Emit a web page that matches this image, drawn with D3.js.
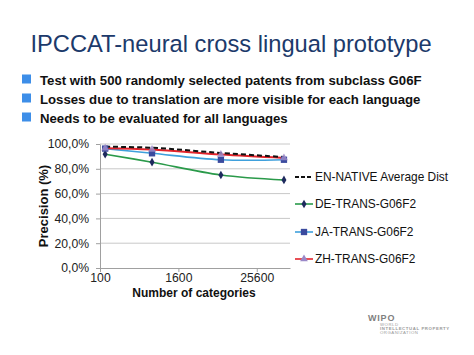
<!DOCTYPE html>
<html><head><meta charset="utf-8">
<script src="https://cdn.jsdelivr.net/npm/d3@7"></script>
<style>body{margin:0;background:#fff}svg{display:block}</style>
</head><body>
<script>
const categories = [120, 630, 7200, 67000];
const enNative = [97.8, 97.0, 92.8, 89.5];
const deTrans = [91.8, 85.3, 75.0, 71.0];
const jaTrans = [96.3, 92.5, 87.3, 87.3];
const zhTrans = [96.6, 95.5, 91.5, 88.8];
const seriesNames = ["EN-NATIVE Average Dist", "DE-TRANS-G06F2", "JA-TRANS-G06F2", "ZH-TRANS-G06F2"];
const xTicks = [100, 1600, 25600];
const yTicks = [0, 20, 40, 60, 80, 100];
const bullets = ["Test with 500 randomly selected patents from subclass G06F",
  "Losses due to translation are more visible for each language",
  "Needs to be evaluated for all languages"];

const W = 474, H = 355;
const svg = d3.select("body").append("svg").attr("width", W).attr("height", H);
const font = "Liberation Sans, Arial, sans-serif";

svg.append("text").attr("x", 231).attr("y", 52).attr("text-anchor", "middle")
  .attr("font-family", font).attr("font-size", 23.7).attr("fill", "#1c3a6b")
  .text("IPCCAT-neural cross lingual prototype");

bullets.forEach((b, i) => {
  const yy = [80, 99, 118][i];
  svg.append("rect").attr("x", 22).attr("y", yy - 5.5).attr("width", 9).attr("height", 9).attr("fill", "#3d8ee8");
  svg.append("text").attr("x", 40).attr("y", yy + 4.5).attr("font-family", font).attr("font-weight", "bold")
    .attr("font-size", 13.2).attr("fill", "#111").text(b);
});

const x = d3.scaleLog().domain([100, 83000]).range([100, 290]);
const y = d3.scaleLinear().domain([0, 100]).range([268, 144]);

// gridlines
svg.append("g").selectAll("line").data(yTicks.slice(1)).join("line")
  .attr("x1", 100).attr("x2", 290).attr("y1", d => y(d)).attr("y2", d => y(d))
  .attr("stroke", "#c8c8c8").attr("stroke-width", 1);

const yAxis = svg.append("g").attr("transform", "translate(100,0)")
  .call(d3.axisLeft(y).tickValues(yTicks).tickSize(4).tickSizeOuter(0).tickFormat(d => d.toFixed(1).replace(".", ",") + "%"));
yAxis.select(".domain").attr("stroke", "#a0a0a0");
yAxis.selectAll(".tick line").attr("stroke", "#a0a0a0");
yAxis.selectAll("text").attr("font-family", font).attr("font-size", 12.2).attr("fill", "#222").attr("x", -11);

const xAxis = svg.append("g").attr("transform", "translate(0,268)")
  .call(d3.axisBottom(x).tickValues(xTicks).tickSize(4).tickSizeOuter(0).tickFormat(d3.format("d")));
xAxis.select(".domain").attr("stroke", "#a0a0a0");
xAxis.selectAll(".tick line").attr("stroke", "#a0a0a0");
xAxis.selectAll("text").attr("font-family", font).attr("font-size", 12.2).attr("fill", "#222").attr("y", 5);

svg.append("text").attr("transform", "translate(48,206) rotate(-90)").attr("text-anchor", "middle")
  .attr("font-family", font).attr("font-weight", "bold").attr("font-size", 13).attr("fill", "#111")
  .text("Precision (%)");
svg.append("text").attr("x", 194).attr("y", 297).attr("text-anchor", "middle")
  .attr("font-family", font).attr("font-weight", "bold").attr("font-size", 12).attr("fill", "#111")
  .text("Number of categories");

const line = d3.line().x((d, i) => x(categories[i])).y(d => y(d)).curve(d3.curveCatmullRom);

svg.append("path").attr("d", line(deTrans)).attr("fill", "none").attr("stroke", "#2a9a4a").attr("stroke-width", 1.6);
svg.append("path").attr("d", line(jaTrans)).attr("fill", "none").attr("stroke", "#3fa0dc").attr("stroke-width", 1.6);
svg.append("path").attr("d", line(zhTrans)).attr("fill", "none").attr("stroke", "#e3232b").attr("stroke-width", 2);
svg.append("path").attr("d", line(enNative)).attr("fill", "none").attr("stroke", "#111").attr("stroke-width", 2).attr("stroke-dasharray", "5,3");

const diamond = d3.symbol().type(d3.symbolDiamond).size(22);
const square = d3.symbol().type(d3.symbolSquare).size(40);
const tri = d3.symbol().type(d3.symbolTriangle).size(26);

svg.append("g").selectAll("path").data(deTrans).join("path")
  .attr("transform", (d, i) => `translate(${x(categories[i])},${y(d)})`).attr("d", diamond).attr("fill", "#1e2a5e");
svg.append("g").selectAll("path").data(jaTrans).join("path")
  .attr("transform", (d, i) => `translate(${x(categories[i])},${y(d)})`).attr("d", square).attr("fill", "#3a4a9e");
svg.append("g").selectAll("path").data(zhTrans).join("path")
  .attr("transform", (d, i) => `translate(${x(categories[i])},${y(d)})`).attr("d", tri).attr("fill", "#9a88c8").attr("opacity", 0.85);

// legend
const legY = [177, 204, 232, 259];
const leg = svg.append("g");
seriesNames.forEach((n, i) => {
  const g = leg.append("g").attr("transform", `translate(0,${legY[i]})`);
  if (i === 0) {
    g.append("line").attr("x1", 295).attr("x2", 313).attr("stroke", "#111").attr("stroke-width", 2).attr("stroke-dasharray", "4,2");
  } else {
    const col = ["", "#2a9a4a", "#3fa0dc", "#e3232b"][i];
    g.append("line").attr("x1", 295).attr("x2", 313).attr("stroke", col).attr("stroke-width", 1.6);
    g.append("path").attr("transform", "translate(304,0)")
      .attr("d", [null, diamond, square, tri][i]).attr("fill", ["", "#1e2a5e", "#3a4a9e", "#9a88c8"][i]);
  }
  g.append("text").attr("x", 315).attr("y", 4.3).attr("font-family", font).attr("font-size", 11.9).attr("fill", "#111").text(n);
});

// WIPO logo text
const lg = svg.append("g").attr("font-family", font).attr("fill", "#9a9a9a");
lg.append("text").attr("x", 368).attr("y", 320.5).attr("font-size", 9).attr("font-weight", "bold").attr("letter-spacing", 0.8).attr("fill", "#808080").text("WIPO");
lg.append("text").attr("x", 380).attr("y", 325.8).attr("font-size", 4.3).attr("letter-spacing", 0.5).text("WORLD");
lg.append("text").attr("x", 380).attr("y", 329.8).attr("font-size", 4.3).attr("font-weight", "bold").attr("letter-spacing", 0.6).text("INTELLECTUAL PROPERTY");
lg.append("text").attr("x", 380).attr("y", 333.8).attr("font-size", 4.3).attr("letter-spacing", 0.5).text("ORGANIZATION");
</script>
</body></html>
